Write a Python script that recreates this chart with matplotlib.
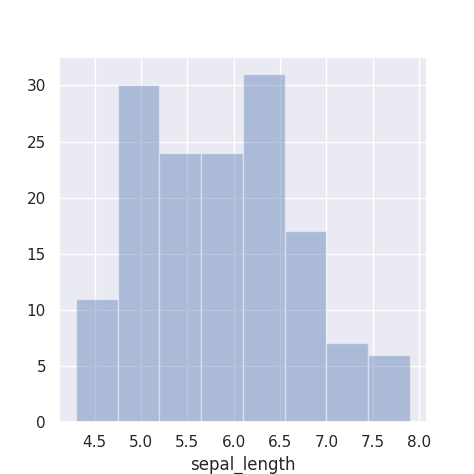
import matplotlib
matplotlib.use("Agg")
import matplotlib.pyplot as plt
import seaborn as sns
import numpy as np

sns.set_theme(style="darkgrid")

bin_edges = [4.3, 4.75, 5.2, 5.65, 6.1, 6.55, 7.0, 7.45, 7.9]
counts = [11, 30, 24, 24, 31, 17, 7, 6]

fig, ax = plt.subplots(figsize=(4.74, 4.74), dpi=100)
centers = [(a + b) / 2 for a, b in zip(bin_edges[:-1], bin_edges[1:])]
ax.hist(centers, bins=bin_edges, weights=counts, color="#4c72b0", alpha=0.4)
ax.set_xlabel("sepal_length")
fig.savefig("out.png", dpi=100)
